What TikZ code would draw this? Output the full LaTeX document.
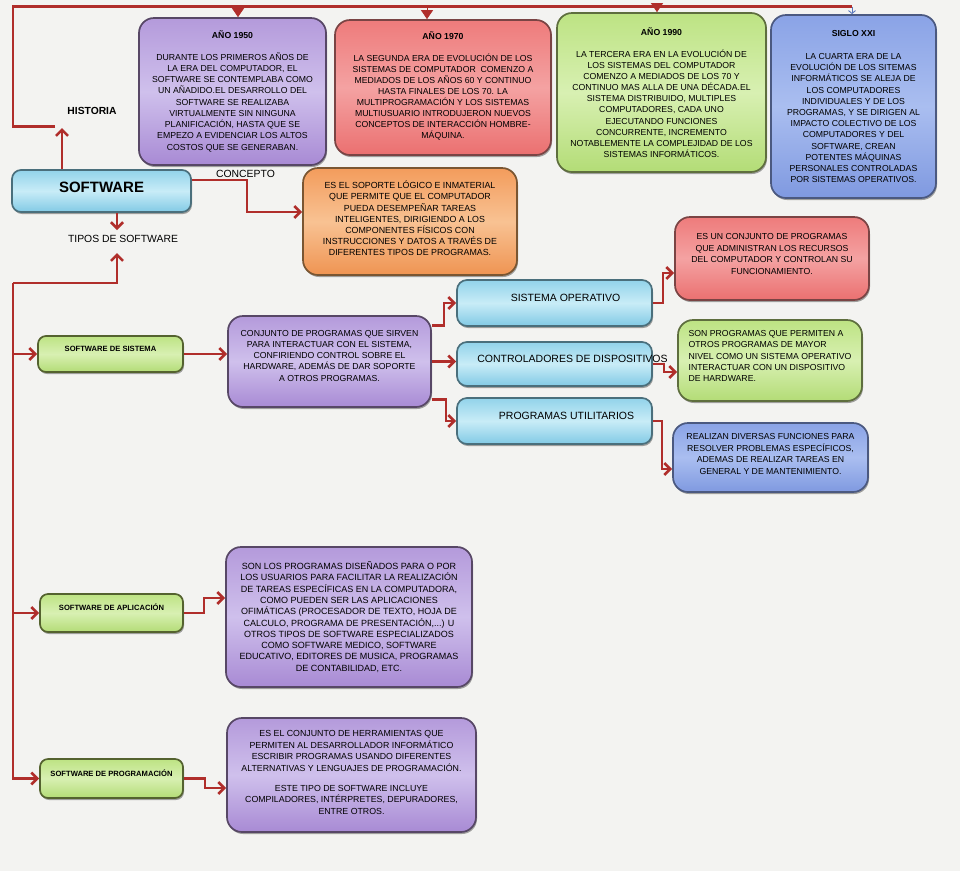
\documentclass[tikz,border=0pt]{standalone}
\usepackage{fontspec}
\setmainfont{Liberation Sans}
\usetikzlibrary{arrows.meta,shadows}
\definecolor{bg}{HTML}{F3F3F1}
\definecolor{arr}{HTML}{B02E2B}
\definecolor{pTop}{HTML}{B49ADB}\definecolor{pMid}{HTML}{CFC0EC}\definecolor{pBot}{HTML}{A88AD4}\definecolor{pDr}{HTML}{574766}
\definecolor{rTop}{HTML}{EE7B7B}\definecolor{rMid}{HTML}{F4A2A2}\definecolor{rBot}{HTML}{EB7070}\definecolor{rDr}{HTML}{7A4444}
\definecolor{gTop}{HTML}{BDE383}\definecolor{gMid}{HTML}{D8F0B2}\definecolor{gBot}{HTML}{B3DC76}\definecolor{gDr}{HTML}{5E6E3E}
\definecolor{bTop}{HTML}{8AA3E6}\definecolor{bMid}{HTML}{AABEF0}\definecolor{bBot}{HTML}{7F99E0}\definecolor{bDr}{HTML}{4B5980}
\definecolor{lTop}{HTML}{92D3EA}\definecolor{lMid}{HTML}{C8ECF7}\definecolor{lBot}{HTML}{82CAE5}\definecolor{lDr}{HTML}{4A6F7C}
\definecolor{oTop}{HTML}{F39C5C}\definecolor{oMid}{HTML}{F8C293}\definecolor{oBot}{HTML}{EF9452}\definecolor{oDr}{HTML}{7A5632}
\definecolor{sDr}{HTML}{54622F}
\definecolor{thin}{HTML}{5A78BC}
\tikzset{
  box/.style={rounded corners=15pt, line width=1.7pt, align=center, inner sep=3pt,
    drop shadow={shadow xshift=1pt, shadow yshift=-2pt, opacity=0.35, fill=black}},
  txt/.style={font=\fontsize{8.7}{#1}\selectfont},
  purp/.style={top color=pTop, bottom color=pBot, middle color=pMid, draw=pDr},
  salm/.style={top color=rTop, bottom color=rBot, middle color=rMid, draw=rDr},
  lgrn/.style={top color=gTop, bottom color=gBot, middle color=gMid, draw=gDr},
  blu/.style={top color=bTop, bottom color=bBot, middle color=bMid, draw=bDr},
  lblu/.style={top color=lTop, bottom color=lBot, middle color=lMid, draw=lDr},
  orng/.style={top color=oTop, bottom color=oBot, middle color=oMid, draw=oDr},
  swbox/.style={box, top color=gTop, bottom color=gBot, middle color=gMid, draw=sDr,
    rounded corners=8pt, font=\fontsize{7.6}{9}\bfseries, text depth=11pt},
  sobox/.style={box, lblu, rounded corners=10pt, minimum width=195pt},
  lbl/.style={inner sep=1pt, font=\fontsize{10.4}{12}\selectfont},
  conn/.style={draw=arr, line width=2.6pt, -{Straight Barb[length=6pt,width=12pt]}},
  frame/.style={draw=arr, line width=2.8pt},
  tri/.style={draw=arr, fill=arr, line width=0.8pt, -{Triangle[length=9pt,width=12pt]}},
  raise/.style={text depth=#1},
}
\begin{document}
\begin{tikzpicture}[x=1pt,y=-1pt]
\fill[bg] (0,0) rectangle (960,871);
\useasboundingbox (0,0) rectangle (960,871);

% ---- top row ----
\node[box, purp, txt=11.25, minimum width=187pt, minimum height=147pt] (b1950) at (232.5,91.5)
 {\textbf{AÑO 1950}\\[10pt]DURANTE LOS PRIMEROS AÑOS DE\\LA ERA DEL COMPUTADOR, EL\\SOFTWARE SE CONTEMPLABA COMO\\UN AÑADIDO.EL DESARROLLO DEL\\SOFTWARE SE REALIZABA\\VIRTUALMENTE SIN NINGUNA\\PLANIFICACIÓN, HASTA QUE SE\\EMPEZO A EVIDENCIAR LOS ALTOS\\COSTOS QUE SE GENERABAN.};
\node[box, salm, txt=11.1, minimum width=216pt, minimum height=135pt, raise=4pt] (b1970) at (443,87.5)
 {\textbf{AÑO 1970}\\[10pt]LA SEGUNDA ERA DE EVOLUCIÓN DE LOS\\SISTEMAS DE COMPUTADOR\ \ COMENZO A\\MEDIADOS DE LOS AÑOS 60 Y CONTINUO\\HASTA FINALES DE LOS 70. LA\\MULTIPROGRAMACIÓN Y LOS SISTEMAS\\MULTIUSUARIO INTRODUJERON NUEVOS\\CONCEPTOS DE INTERACCIÓN HOMBRE-\\MÁQUINA.};
\node[box, lgrn, txt=11.1, minimum width=209pt, minimum height=159pt] (b1990) at (661.5,92.5)
 {\textbf{AÑO 1990}\\[11pt]LA TERCERA ERA EN LA EVOLUCIÓN DE\\LOS SISTEMAS DEL COMPUTADOR\\COMENZO A MEDIADOS DE LOS 70 Y\\CONTINUO MAS ALLA DE UNA DÉCADA.EL\\SISTEMA DISTRIBUIDO, MULTIPLES\\COMPUTADORES, CADA UNO\\EJECUTANDO FUNCIONES\\CONCURRENTE, INCREMENTO\\NOTABLEMENTE LA COMPLEJIDAD DE LOS\\SISTEMAS INFORMÁTICOS.};
\node[box, blu, txt=11.2, minimum width=165pt, minimum height=183pt] (bxxi) at (853.5,106.5)
 {\textbf{SIGLO XXI}\\[12pt]LA CUARTA ERA DE LA\\EVOLUCIÓN DE LOS SITEMAS\\INFORMÁTICOS SE ALEJA DE\\LOS COMPUTADORES\\INDIVIDUALES Y DE LOS\\PROGRAMAS, Y SE DIRIGEN AL\\IMPACTO COLECTIVO DE LOS\\COMPUTADORES Y DEL\\SOFTWARE, CREAN\\POTENTES MÁQUINAS\\PERSONALES CONTROLADAS\\POR SISTEMAS OPERATIVOS.};

% ---- software ----
\node[box, lblu, rounded corners=9pt, minimum width=179pt, minimum height=42pt,
  font=\fontsize{15}{17}\bfseries, raise=8pt] (soft) at (101.5,191) {SOFTWARE};
\node[lbl, font=\fontsize{10.3}{12}\bfseries] (historia) at (92,111) {HISTORIA};
\node[lbl] (concepto) at (245.5,174) {CONCEPTO};
\node[lbl] (tipos) at (123,239) {TIPOS DE SOFTWARE};

\node[box, orng, txt=11.2, font=\fontsize{8.85}{11.2}\selectfont, minimum width=214pt, minimum height=107pt, raise=6pt] (concept) at (410,221.5)
 {ES EL SOPORTE LÓGICO E INMATERIAL\\QUE PERMITE QUE EL COMPUTADOR\\PUEDA DESEMPEÑAR TAREAS\\INTELIGENTES, DIRIGIENDO A LOS\\COMPONENTES FÍSICOS CON\\INSTRUCCIONES Y DATOS A TRAVÉS DE\\DIFERENTES TIPOS DE PROGRAMAS.};

% ---- software de sistema ----
\node[swbox, minimum width=145pt, minimum height=36pt] (sws) at (110.5,354) {SOFTWARE DE SISTEMA};
\node[box, purp, txt=11.25, minimum width=203pt, minimum height=91pt, raise=12pt] (conj) at (329.5,361.5)
 {CONJUNTO DE PROGRAMAS QUE SIRVEN\\PARA INTERACTUAR CON EL SISTEMA,\\CONFIRIENDO CONTROL SOBRE EL\\HARDWARE, ADEMÁS DE DAR SOPORTE\\A OTROS PROGRAMAS.};
\node[sobox, minimum height=46pt] (so) at (554.5,303) {};
\node[sobox, minimum height=44pt] (ctrl) at (554.5,364) {};
\node[sobox, minimum height=46pt] (util) at (554.5,421) {};

\node[box, salm, txt=11.9, minimum width=194pt, minimum height=83pt, raise=9pt] (dso) at (772,258.5)
 {ES UN CONJUNTO DE PROGRAMAS\\QUE ADMINISTRAN LOS RECURSOS\\DEL COMPUTADOR Y CONTROLAN SU\\FUNCIONAMIENTO.};
\node[box, lgrn, txt=11.1, align=left, minimum width=184pt, minimum height=81pt, raise=9pt] (dctrl) at (770,360.5)
 {SON PROGRAMAS QUE PERMITEN A\\OTROS PROGRAMAS DE MAYOR\\NIVEL COMO UN SISTEMA OPERATIVO\\INTERACTUAR CON UN DISPOSITIVO\\DE HARDWARE.};
\node[box, blu, txt=11.4, minimum width=195pt, minimum height=69pt, raise=7pt] (dutil) at (770.5,457.5)
 {REALIZAN DIVERSAS FUNCIONES PARA\\RESOLVER PROBLEMAS ESPECÍFICOS,\\ADEMAS DE REALIZAR TAREAS EN\\GENERAL Y DE MANTENIMIENTO.};

% ---- aplicacion / programacion ----
\node[swbox, minimum width=143pt, minimum height=38pt] (swa) at (111.5,613) {SOFTWARE DE APLICACIÓN};
\node[box, purp, font=\fontsize{9}{11.3}\selectfont, minimum width=246pt, minimum height=140pt] (dapl) at (349,617)
 {SON LOS PROGRAMAS DISEÑADOS PARA O POR\\LOS USUARIOS PARA FACILITAR LA REALIZACIÓN\\DE TAREAS ESPECÍFICAS EN LA COMPUTADORA,\\COMO PUEDEN SER LAS APLICACIONES\\OFIMÁTICAS (PROCESADOR DE TEXTO, HOJA DE\\CALCULO, PROGRAMA DE PRESENTACIÓN,...) U\\OTROS TIPOS DE SOFTWARE ESPECIALIZADOS\\COMO SOFTWARE MEDICO, SOFTWARE\\EDUCATIVO, EDITORES DE MUSICA, PROGRAMAS\\DE CONTABILIDAD, ETC.};
\node[swbox, minimum width=143pt, minimum height=39pt] (swp) at (111.5,778.5) {SOFTWARE DE PROGRAMACIÓN};
\node[box, purp, font=\fontsize{8.8}{11.7}\selectfont, minimum width=249pt, minimum height=114pt, raise=5pt] (dprog) at (351.5,775)
 {ES EL CONJUNTO DE HERRAMIENTAS QUE\\PERMITEN AL DESARROLLADOR INFORMÁTICO\\ESCRIBIR PROGRAMAS USANDO DIFERENTES\\ALTERNATIVAS Y LENGUAJES DE PROGRAMACIÓN.\\[8pt]ESTE TIPO DE SOFTWARE INCLUYE\\COMPILADORES, INTÉRPRETES, DEPURADORES,\\ENTRE OTROS.};

% ---- coordinates ----
\coordinate (hist) at (62,128);
\coordinate (fa) at (55,126.5);
\coordinate (ftl) at (13,6.5);
\coordinate (fend) at (852,6.5);
\coordinate (t1) at (238,6.5);
\coordinate (t2) at (427,6.5);
\coordinate (t3) at (657,6.5);
\coordinate (cc) at (247,212);
\coordinate (tp) at (117,230);
\coordinate (bb) at (13,283);
\coordinate (bt) at (117,253);
\coordinate (k1) at (663,273);
\coordinate (k2) at (664,372);
\coordinate (k3) at (662,469);
\coordinate (k4) at (204,598);
\coordinate (k5) at (205,788);

% ---- connectors ----
\draw[conn] (soft.north -| hist) -- (hist);
\draw[frame] (fa) -| (ftl) -- (fend);
\draw[tri] (t1) -- (t1 |- b1950.north);
\draw[tri] (t2) -- (t2 |- b1970.north);
\draw[tri] (t3) -- (t3 |- b1990.north);
\draw[draw=thin, line width=0.9pt, -{Straight Barb[length=3pt,width=7pt]}] (fend) -- (fend |- bxxi.north);
\draw[conn] ([yshift=11pt]soft.east) -| (cc) -- (cc -| concept.west);
\draw[conn] (soft.south -| tp) -- (tp);
\draw[conn] (bb) -| (bt);
\draw[conn] (bb) |- (sws.west);
\draw[conn] (bb) |- (swa.west);
\draw[conn] (bb) |- (swp.west);
\draw[conn] (sws.east) -- (sws.east -| conj.west);
\draw[conn] ([yshift=36pt]conj.east) -| ([xshift=-12pt]so.west) -- (so.west);
\draw[conn] (conj.east) -- (conj.east -| ctrl.west);
\draw[conn] ([yshift=-38pt]conj.east) -| ([xshift=-10pt]util.west) -- (util.west);
\draw[conn] (so.east) -| (k1) -- (k1 -| dso.west);
\draw[conn] (ctrl.east) -| (k2) -- (k2 -| dctrl.west);
\draw[conn] (util.east) -| (k3) -- (k3 -| dutil.west);
\draw[conn] (swa.east) -| (k4) -- (k4 -| dapl.west);
\draw[conn] (swp.east) -| (k5) -- (k5 -| dprog.west);

% ---- texts in the blue boxes ----
\node[lbl, font=\fontsize{10.5}{12}\selectfont] (so-t) at ([xshift=11pt,yshift=5pt]so.center) {SISTEMA OPERATIVO};
\node[lbl, font=\fontsize{10.5}{12}\selectfont] (ctrl-t) at ([xshift=18pt,yshift=5pt]ctrl.center) {CONTROLADORES DE DISPOSITIVOS};
\node[lbl, font=\fontsize{10.5}{12}\selectfont] (util-t) at ([xshift=12pt,yshift=5pt]util.center) {PROGRAMAS UTILITARIOS};
\end{tikzpicture}
\end{document}
